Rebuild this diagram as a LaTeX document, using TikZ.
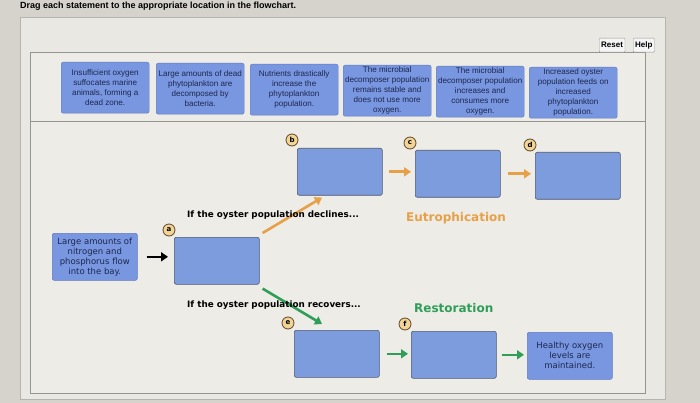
\documentclass[tikz,border=0pt]{standalone}
\usepackage{fontspec}
\setmainfont{Liberation Sans}
\newfontfamily\verdana{DejaVu Sans}
\usetikzlibrary{arrows.meta}

\definecolor{bgGray}{RGB}{214,211,205}
\definecolor{panelGray}{RGB}{234,232,227}
\definecolor{innerGray}{RGB}{238,236,231}
\definecolor{edgeGray}{RGB}{150,148,144}
\definecolor{slotBlue}{RGB}{124,156,222}
\definecolor{slotEdge}{RGB}{80,88,108}
\definecolor{trayBlue}{RGB}{121,150,224}
\definecolor{trayEdge}{RGB}{96,122,190}
\definecolor{inkBlue}{RGB}{28,40,78}
\definecolor{eutroOrange}{RGB}{231,160,72}
\definecolor{restoGreen}{RGB}{46,158,88}
\definecolor{tagTan}{RGB}{241,212,150}
\definecolor{tagRing}{RGB}{96,70,40}

\tikzset{
	traybox/.style={draw=trayEdge, fill=trayBlue, rounded corners=2pt, anchor=north west,
		minimum width=88pt, minimum height=51pt, align=center, inner sep=0pt,
		text=inkBlue, font=\fontsize{8.1}{9.9}\selectfont},
	slotbox/.style={draw=slotEdge, semithick, fill=slotBlue, rounded corners=2pt, anchor=north west,
		minimum width=85pt, minimum height=47pt},
	givenbox/.style={slotbox, draw=trayEdge, fill=trayBlue, align=center, inner sep=0pt,
		text=inkBlue, font=\verdana\fontsize{8.5}{10}\selectfont},
	tag/.style={circle, draw=tagRing, thick, fill=tagTan, minimum size=12pt, inner sep=0pt,
		font=\verdana\bfseries\fontsize{7}{7}\selectfont},
	btn/.style={draw=edgeGray, fill=white!92!gray, rounded corners=1pt, anchor=north west,
		minimum height=14pt, inner sep=2pt, font=\bfseries\fontsize{8}{8}\selectfont},
	flowarrow/.style={line width=2.6pt, -{Triangle[length=7pt,width=9pt]}},
	caption/.style={anchor=west, inner sep=0pt, font=\verdana\bfseries\fontsize{8.8}{10}\selectfont},
	phase/.style={anchor=west, inner sep=0pt, font=\verdana\bfseries\fontsize{12}{14}\selectfont}
}

\begin{document}
\begin{tikzpicture}[x=1pt,y=-1pt]
	\useasboundingbox (0,0) rectangle (700,403);
	\fill[bgGray] (0,0) rectangle (700,403);

	% panels
	\draw[fill=panelGray, draw=edgeGray!70] (20,17) rectangle (665,399);
	\draw[fill=innerGray, draw=edgeGray] (30,52) rectangle (645,393);
	\draw[edgeGray] (30,121) -- (645,121);

	\node[anchor=west, inner sep=0pt, font=\bfseries\fontsize{9}{9}\selectfont] (title) at (20,6)
		{Drag each statement to the appropriate location in the flowchart.};
	\node[btn] (reset) at (599,38) {Reset};
	\node[btn] (help) at (633,38) {Help};

	% statements
	\node[traybox] (s1) at (61,62) {Insufficient oxygen\\suffocates marine\\animals, forming a\\dead zone.};
	\node[traybox] (s2) at (156,63) {Large amounts of dead\\phytoplankton are\\decomposed by\\bacteria.};
	\node[traybox] (s3) at (250,64) {Nutrients drastically\\increase the\\phytoplankton\\population.};
	\node[traybox] (s4) at (343,65) {The microbial\\decomposer population\\remains stable and\\does not use more\\oxygen.};
	\node[traybox] (s5) at (436,66) {The microbial\\decomposer population\\increases and\\consumes more\\oxygen.};
	\node[traybox] (s6) at (529,67) {Increased oyster\\population feeds on\\increased\\phytoplankton\\population.};

	% flowchart
	\node[givenbox] (start) at (52,233) {Large amounts of\\nitrogen and\\phosphorus flow\\into the bay.};
	\node[slotbox] (a) at (174,237) {};
	\node[slotbox] (b) at (297,148) {};
	\node[slotbox] (c) at (415,150) {};
	\node[slotbox] (d) at (535,152) {};
	\node[slotbox] (e) at (294,330) {};
	\node[slotbox] (f) at (411,331) {};
	\node[givenbox] (healthy) at (527,332) {Healthy oxygen\\levels are\\maintained.};

	\node[tag] (ta) at (169,230) {a};
	\node[tag] (tb) at (292,140) {b};
	\node[tag] (tc) at (410,143) {c};
	\node[tag] (td) at (530,145) {d};
	\node[tag] (te) at (288,323) {e};
	\node[tag] (tf) at (405,324) {f};

	\draw[flowarrow, black] ([xshift=9pt]start.east) -- ([xshift=-6pt]start.east -| a.west);
	\draw[flowarrow, eutroOrange] ([shift={(3pt,4pt)}]a.north east) -- ([shift={(25pt,-2pt)}]b.south west);
	\draw[flowarrow, eutroOrange] ([xshift=6pt]b.east) -- ([xshift=-4pt]b.east -| c.west);
	\draw[flowarrow, eutroOrange] ([xshift=7pt]c.east) -- ([xshift=-4pt]c.east -| d.west);
	\draw[flowarrow, restoGreen] ([shift={(3pt,-4pt)}]a.south east) -- ([shift={(28pt,6pt)}]e.north west);
	\draw[flowarrow, restoGreen] ([xshift=7pt]e.east) -- ([xshift=-3pt]e.east -| f.west);
	\draw[flowarrow, restoGreen] ([xshift=5pt]f.east) -- ([xshift=-3pt]f.east -| healthy.west);

	\node[caption] (declines) at (187,215) {If the oyster population declines...};
	\node[caption] (recovers) at (187,305) {If the oyster population recovers...};
	\node[phase, text=eutroOrange] (eutro) at (406,218) {Eutrophication};
	\node[phase, text=restoGreen] (resto) at (414,308) {Restoration};
\end{tikzpicture}
\end{document}
